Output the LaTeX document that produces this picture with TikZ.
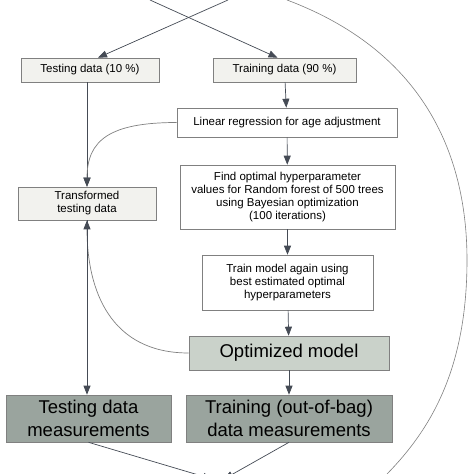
\documentclass[tikz,border=0pt]{standalone}
\usepackage{fontspec}
\setmainfont{Liberation Sans}
\usetikzlibrary{arrows.meta}

\definecolor{edgegray}{HTML}{808080}
\definecolor{arrowdark}{HTML}{454B55}
\definecolor{lightbox}{HTML}{F2F2EE}
\definecolor{modelbox}{HTML}{CAD2CA}
\definecolor{measbox}{HTML}{9AA49E}

\begin{document}
\begin{tikzpicture}[
      x=1pt, y=-1pt,
      box/.style={rectangle, draw=edgegray, fill=white, align=center,
      inner sep=2pt, line width=0.6pt, font=\fontsize{11.5}{13}\selectfont},
      lightblock/.style={box, fill=lightbox},
      bigblock/.style={box, font=\fontsize{18.5}{23.5}\selectfont},
      line/.style={draw=arrowdark, line width=0.7pt,
      -{Triangle[width=7pt,length=9pt,color=arrowdark]}},
      curve/.style={line, draw=gray}
    ]
    \clip (0,0) rectangle (474,474);
    \fill[white] (0,0) rectangle (474,474);

    % Nodes
    \node [lightblock, minimum width=138pt, minimum height=24pt] (testing) at (90,70) {Testing data (10 \%)};
    \node [lightblock, minimum width=143pt, minimum height=24pt] (training) at (284.5,70) {Training data (90 \%)};
    \node [box, minimum width=220pt, minimum height=29pt] (linreg) at (287,122.5) {Linear regression for age adjustment};
    \node [box, minimum width=215pt, minimum height=64pt] (findopt) at (287.5,197) {Find optimal hyperparameter\\values for Random forest of 500 trees\\using Bayesian optimization\\(100 iterations)};
    \node [lightblock, minimum width=138pt, minimum height=33pt] (transformed) at (87,203.5) {Transformed\\testing data};
    \node [box, minimum width=171pt, minimum height=55pt] (trainagain) at (287.5,282.5) {Train model again using\\best estimated optimal\\hyperparameters};
    \node [bigblock, fill=modelbox, minimum width=200pt, minimum height=34pt] (optmodel) at (289,353) {Optimized model};
    \node [bigblock, fill=measbox, minimum width=165pt, minimum height=47pt] (testmeas) at (88.5,418.5) {Testing data\\measurements};
    \node [bigblock, fill=measbox, minimum width=206pt, minimum height=47pt] (trainmeas) at (289,418.5) {Training (out-of-bag)\\data measurements};

    % Free ends outside the visible area
    \coordinate (splitL) at (150,0);
    \coordinate (splitR) at (228,0);
    \coordinate (arcstart) at (287,0);
    \coordinate (arcend) at (387,474);
    \coordinate (mergeL) at (212,479);
    \coordinate (mergeR) at (224,479);

    % Paths
    \path [line] (splitL) -- ([xshift=-7pt]training.north);
    \path [line] (splitR) -- ([xshift=8pt]testing.north);
    \draw [gray, line width=0.6pt] (arcstart) .. controls (420,50) and (467,150) .. (467,260)
      .. controls (467,370) and (430,430) .. (arcend);
    \path [line] (training) -- (linreg);
    \path [line] (linreg) -- (findopt);
    \path [line] (findopt) -- (trainagain);
    \path [line] (trainagain) -- (optmodel);
    \path [line] (optmodel) -- (trainmeas);
    \path [line] (testing.south -| transformed.north) -- (transformed.north);
    \path [curve] (linreg.west) .. controls (110,122.5) and (87,140) .. (transformed.north);
    \path [curve] (optmodel.west) .. controls (110,353) and (87,290) .. (transformed.south);
    \path [line] (transformed.south) -- (testmeas.north -| transformed.south);
    \path [line] (testmeas.south) -- (mergeL);
    \path [line] (trainmeas.south) -- (mergeR);
  \end{tikzpicture}
\end{document}
